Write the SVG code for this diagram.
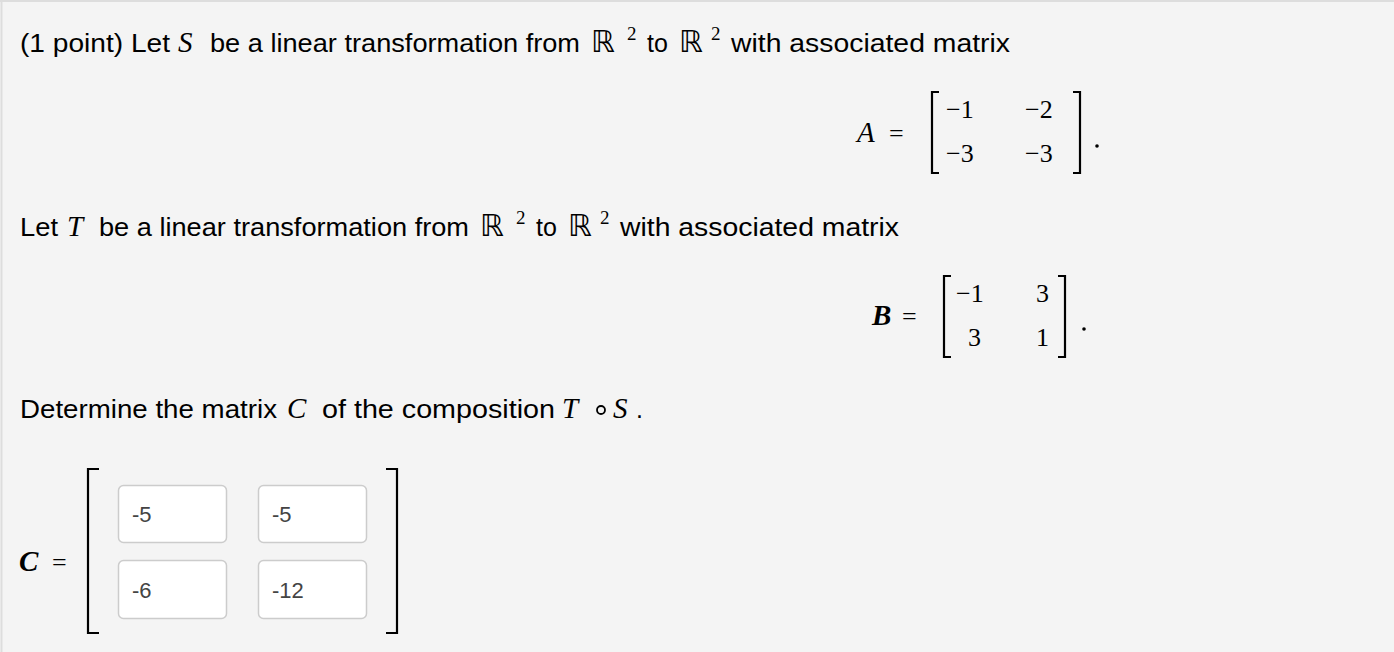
<svg xmlns="http://www.w3.org/2000/svg" width="1394" height="652" viewBox="0 0 1394 652">
<style>
.t{font-family:"Liberation Sans",Arial,sans-serif;font-size:25px;fill:#000}
.m{font-family:"Liberation Serif","Times New Roman",serif;font-size:26px;fill:#000}
.mi{font-family:"Liberation Serif","Times New Roman",serif;font-size:29px;font-style:italic;fill:#000}
.bb{font-family:"DejaVu Sans",sans-serif;font-size:30px;fill:#000}
.sup{font-family:"Liberation Serif",serif;font-size:19px;fill:#000}
.br{fill:none;stroke:#000;stroke-width:2.2}
.box{fill:#fff;stroke:#ccc;stroke-width:1.5}
.v{font-family:"Liberation Sans",Arial,sans-serif;font-size:22px;fill:#444}
</style>
<rect width="1394" height="652" fill="#f4f4f4"/>
<line x1="1.5" y1="0" x2="1.5" y2="652" stroke="#ddd" stroke-width="2"/>
<line x1="0" y1="1" x2="1394" y2="1" stroke="#ddd" stroke-width="2"/>
<g id="line1">
<text class="t" x="20" y="52" textLength="150" lengthAdjust="spacingAndGlyphs">(1 point) Let</text>
<text class="mi" x="178" y="52">S</text>
<text class="t" x="210" y="52" textLength="370" lengthAdjust="spacingAndGlyphs">be a linear transformation from</text>
<text class="bb" x="591" y="52">ℝ</text><text class="sup" x="627" y="40">2</text>
<text class="t" x="647" y="52">to</text>
<text class="bb" x="679" y="52">ℝ</text><text class="sup" x="711" y="40">2</text>
<text class="t" x="731" y="52" textLength="279" lengthAdjust="spacingAndGlyphs">with associated matrix</text>
</g>
<g id="matA">
<text class="mi" x="857" y="142">A</text><text class="m" x="889" y="142">=</text>
<path class="br" d="M939,92 h-7 v81 h7 M1073,92 h7 v81 h-7"/>
<text class="m" x="946" y="118">−1</text><text class="m" x="1025" y="118">−2</text>
<text class="m" x="946" y="162">−3</text><text class="m" x="1025" y="162">−3</text>
<circle cx="1097" cy="146" r="1.8" fill="#000"/>
</g>
<g id="line2">
<text class="t" x="20" y="236" textLength="38" lengthAdjust="spacingAndGlyphs">Let</text>
<text class="mi" x="67" y="236">T</text>
<text class="t" x="99" y="236" textLength="370" lengthAdjust="spacingAndGlyphs">be a linear transformation from</text>
<text class="bb" x="480" y="236">ℝ</text><text class="sup" x="516" y="224">2</text>
<text class="t" x="536" y="236">to</text>
<text class="bb" x="568" y="236">ℝ</text><text class="sup" x="600" y="224">2</text>
<text class="t" x="620" y="236" textLength="279" lengthAdjust="spacingAndGlyphs">with associated matrix</text>
</g>
<g id="matB">
<text class="mi" x="872" y="325" font-weight="bold">B</text><text class="m" x="902" y="325">=</text>
<path class="br" d="M951,276 h-7 v81 h7 M1058,276 h7 v81 h-7"/>
<text class="m" x="956" y="302">−1</text><text class="m" x="1036" y="302">3</text>
<text class="m" x="968" y="346">3</text><text class="m" x="1036" y="346">1</text>
<circle cx="1084" cy="329" r="1.8" fill="#000"/>
</g>
<g id="line3">
<text class="t" x="20" y="418" textLength="257" lengthAdjust="spacingAndGlyphs">Determine the matrix</text>
<text class="mi" x="287" y="418">C</text>
<text class="t" x="322" y="418" textLength="233" lengthAdjust="spacingAndGlyphs">of the composition</text>
<text class="mi" x="562" y="418">T</text>
<circle cx="601" cy="410" r="4" fill="none" stroke="#000" stroke-width="1.8"/>
<text class="mi" x="613" y="418">S</text>
<text class="t" x="636" y="418">.</text>
</g>
<g id="matC">
<text class="mi" x="19" y="571" font-weight="bold">C</text><text class="m" x="52" y="571">=</text>
<path class="br" d="M99,469 h-11 v164 h11 M386,469 h11 v164 h-11"/>
<rect class="box" x="118.5" y="485.5" width="108" height="57" rx="5"/>
<rect class="box" x="258.5" y="485.5" width="108" height="57" rx="5"/>
<rect class="box" x="118.5" y="560.5" width="108" height="58" rx="5"/>
<rect class="box" x="258.5" y="560.5" width="108" height="58" rx="5"/>
<text class="v" x="132" y="522">-5</text><text class="v" x="272" y="522">-5</text>
<text class="v" x="132" y="598">-6</text><text class="v" x="272" y="598">-12</text>
</g>
</svg>
